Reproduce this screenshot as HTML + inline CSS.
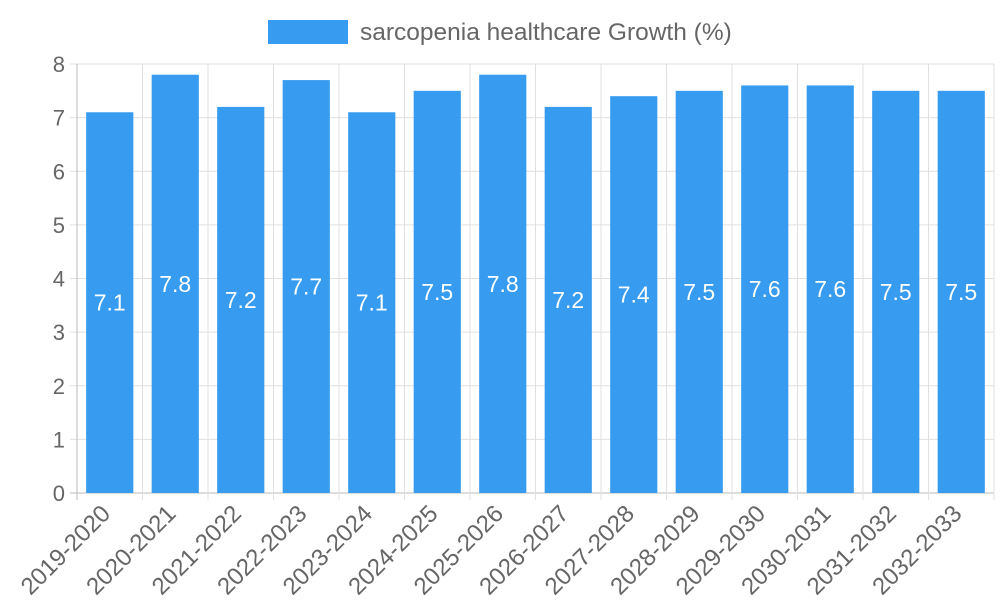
<!DOCTYPE html>
<html><head><meta charset="utf-8"><style>
html,body{margin:0;padding:0;background:#fff;}
svg{display:block;font-family:"Liberation Sans",sans-serif;}
</style></head><body>
<svg id="chart" width="1000" height="600">
<g id="grid"></g>
<g id="bars"></g>
<g id="axes"></g>
<g>
<rect x="268" y="20" width="80" height="24" fill="#379cf0"></rect>
<text x="360" y="40" font-size="24.5" fill="#666">sarcopenia healthcare Growth (%)</text>
</g>
</svg>
<script>
const categories = ["2019-2020","2020-2021","2021-2022","2022-2023","2023-2024","2024-2025","2025-2026","2026-2027","2027-2028","2028-2029","2029-2030","2030-2031","2031-2032","2032-2033"];
const values = [7.1,7.8,7.2,7.7,7.1,7.5,7.8,7.2,7.4,7.5,7.6,7.6,7.5,7.5];
const yTicks = [0,1,2,3,4,5,6,7,8];

const L=77,R=994,T=64,B=493,yMax=8;
const NS="http://www.w3.org/2000/svg";
const bw=(R-L)/categories.length;
const y=v=>B-(v/yMax)*(B-T);
const x=i=>L+i*bw;
function mk(tag,attrs,parent){const e=document.createElementNS(NS,tag);for(const k in attrs)e.setAttribute(k,attrs[k]);parent.appendChild(e);return e;}
const grid=document.getElementById('grid'),bars=document.getElementById('bars'),axes=document.getElementById('axes');
yTicks.forEach(t=>{
  const g=mk('line',{x1:L-7,x2:R,y1:y(t),y2:y(t),stroke:t===0?'#bbb':'#e0e0e0','stroke-width':1},grid);
  
  
  const lb=mk('text',{x:L-12,y:y(t)+8,'text-anchor':'end','font-size':22,fill:'#666'},axes);
  lb.textContent=t;
  
  
});
for(let i=0;i<=categories.length;i++){
  const g=mk('line',{x1:x(i),x2:x(i),y1:T,y2:B+7,stroke:i===0?'#bbb':'#e0e0e0','stroke-width':1},grid);
  
  
}
categories.forEach((c,i)=>{
  const w=bw*0.72,cx=x(i)+bw/2;
  const r=mk('rect',{x:cx-w/2,y:y(values[i]),width:w,height:B-y(values[i]),fill:'#379cf0'},bars);
  
  
  const v=mk('text',{x:cx,y:(y(values[i])+B)/2+8,'text-anchor':'middle','font-size':23,fill:'#fff'},bars);
  v.textContent=values[i];
  
  
  const lx=cx+2,ly=B+22;
  const lb=mk('text',{x:lx,y:ly,'text-anchor':'end','font-size':24,fill:'#666',transform:`rotate(-45 ${lx} ${ly})`},axes);
  lb.textContent=c;
  
  
});
</script>
</body></html>
